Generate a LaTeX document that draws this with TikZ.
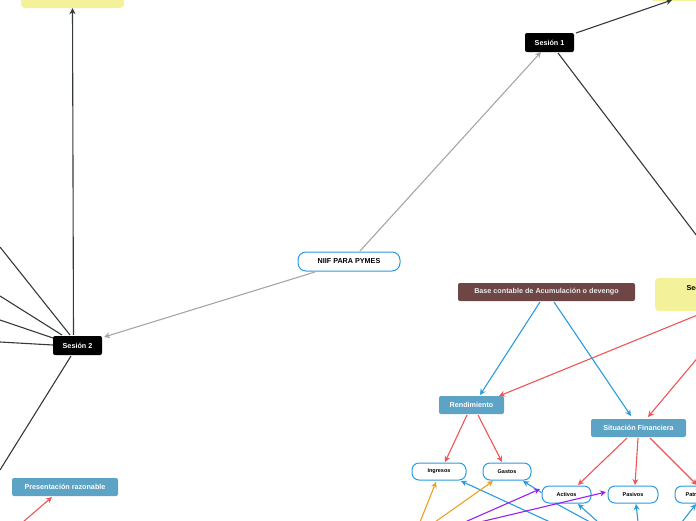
\documentclass[tikz,border=0pt]{standalone}
\usepackage{fontspec}
\setmainfont{Liberation Sans}
\usetikzlibrary{arrows.meta}
\definecolor{bl}{HTML}{2A9BDF}
\definecolor{rd}{HTML}{EE5555}
\definecolor{tb}{HTML}{5CA3C6}
\definecolor{yl}{HTML}{F3F29B}
\definecolor{dk}{HTML}{333B36}
\definecolor{og}{HTML}{F0A020}
\definecolor{pu}{HTML}{9B20F0}
\definecolor{br}{HTML}{6E4646}
\tikzset{
 blk/.style={fill=black,rounded corners=2pt,text=white,font=\bfseries\fontsize{7.2}{8}\selectfont,minimum height=19pt,inner sep=0pt},
 teal/.style={fill=tb,rounded corners=2pt,text=white,font=\bfseries\fontsize{7.2}{8}\selectfont,minimum height=18pt,inner sep=0pt},
 pill/.style={draw=bl,fill=white,rounded corners=7pt,line width=1pt,font=\bfseries\fontsize{5.5}{6}\selectfont,minimum height=17pt,inner sep=0pt},
 yel/.style={fill=yl,rounded corners=4pt,inner sep=0pt},
 ar/.style={-{Stealth[length=6pt,width=6pt]},line width=1.1pt},
}
\begin{document}
\begin{tikzpicture}[x=1pt,y=-1pt]
\useasboundingbox (0,0) rectangle (696,520);
\clip (0,0) rectangle (696,520);
% nodes
\node[yel,minimum width=103pt,minimum height=20pt] (y1) at (72.5,-2) {};
\node[yel,minimum width=60pt,minimum height=10pt] (y2) at (680,-4) {};
\node[yel,minimum width=70pt,minimum height=33pt] (y3) at (690,294.5) {};
\node[font=\bfseries\fontsize{7.2}{8}\selectfont,anchor=west] (y3t) at (683,288) {Sección};
\node[blk,minimum width=49pt] (s2) at (77.5,345.5) {Sesión 2};
\node[blk,minimum width=49pt] (s1) at (549.5,42.5) {Sesión 1};
\node[pill,minimum width=102pt,minimum height=19pt,rounded corners=8pt,font=\bfseries\fontsize{7.2}{8}\selectfont] (ni) at (349,261.5) {NIIF PARA PYMES};
\node[teal,minimum width=106pt] (pr) at (65,487) {Presentación razonable};
\node[fill=br,rounded corners=2pt,text=white!85!gray,font=\bfseries\fontsize{7.2}{8}\selectfont,minimum width=177pt,minimum height=18pt,inner sep=0pt] (bc) at (546.5,292) {Base contable de Acumulación o devengo};
\node[teal,minimum width=65pt] (re) at (471.5,405) {Rendimiento};
\node[teal,minimum width=95pt] (sf) at (638.5,428) {Situación Financiera};
\node[pill,minimum width=54pt] (in) at (439,471.5) {Ingresos};
\node[pill,minimum width=48pt] (ga) at (507,471.5) {Gastos};
\node[pill,minimum width=49pt] (ac) at (566.5,494.5) {Activos};
\node[pill,minimum width=50pt] (pa) at (633,494.5) {Pasivos};
\node[pill,minimum width=50pt] (pt) at (700,494.5) {Patrimonio};
% free ends
\coordinate (l1) at (0,247); \coordinate (l2) at (0,296); \coordinate (l3) at (0,320);
\coordinate (l4) at (0,342); \coordinate (l5) at (0,470); \coordinate (r1) at (700,240);
\coordinate (p0) at (23,522); \coordinate (q1) at (700,314); \coordinate (q2) at (700,355);
% dark
\draw[ar,draw=dk] (s2.north) ++(-4,-1) -- (y1.south);
\draw[line width=1.1pt,draw=dk] (70,335) -- (l1) (62,335) -- (l2) (53,338) -- (l3) (53,345) -- (l4) (71,356) -- (l5);
\draw[ar,draw=dk] (576,33) -- (672,0);
\draw[line width=1.1pt,draw=dk] (558,53) -- (r1);
% gray
\draw[ar,draw=gray!70] (315,272) -- (104,337);
\draw[ar,draw=gray!70] (360,251) -- (541,52);
% red
\draw[ar,draw=rd] (p0) -- (52,497);
\draw[ar,draw=rd] (q1) -- (499,396);
\draw[ar,draw=rd] (q2) -- (648,417);
\draw[ar,draw=rd] (467,415) -- (445,462);
\draw[ar,draw=rd] (478,415) -- (502,462);
\draw[ar,draw=rd] (627,438) -- (578,485);
\draw[ar,draw=rd] (638,438) -- (635,485);
\draw[ar,draw=rd] (650,438) -- (697,485);
% blue
\draw[ar,draw=bl] (540,302) -- (480,395);
\draw[ar,draw=bl] (554,302) -- (631,416);
\draw[ar,draw=bl] (550,522) -- (461,481);
\draw[ar,draw=bl] (ac.west) ++(0,-2) -- (523,481);
\draw[line width=1.1pt,draw=bl] (555,503) -- (590,522);
\draw[ar,draw=bl] (598,522) -- (578,504);
\draw[ar,draw=bl] (638,522) -- (636,504);
\draw[ar,draw=bl] (682,522) -- (696,504);
% orange / purple
\draw[ar,draw=og] (420,522) -- (436,482);
\draw[ar,draw=og] (435,522) -- (493,481);
\draw[ar,draw=pu] (465,522) -- (540,489);
\draw[ar,draw=pu] (480,522) -- (606,492);
\end{tikzpicture}
\end{document}
